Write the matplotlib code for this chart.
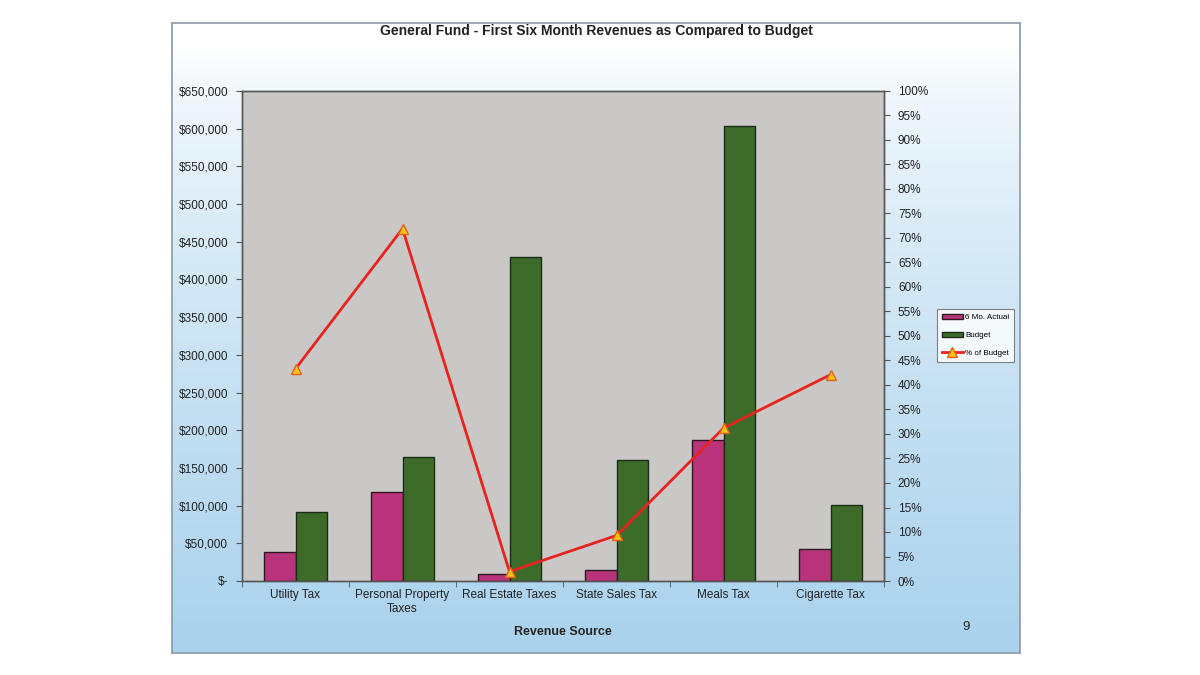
import matplotlib
matplotlib.use("Agg")
import matplotlib.pyplot as plt
import numpy as np
from matplotlib.ticker import FuncFormatter, MultipleLocator

plt.rcParams['font.family'] = ['Liberation Sans', 'DejaVu Sans']

categories = ["Utility Tax", "Personal Property\nTaxes", "Real Estate Taxes",
              "State Sales Tax", "Meals Tax", "Cigarette Tax"]
actual = [38600, 117500, 9300, 14600, 187500, 42500]
budget = [92000, 164000, 429300, 160800, 603100, 101000]
pct_budget = [0.433, 0.719, 0.019, 0.093, 0.312, 0.421]

W, H = 1200, 675
fig = plt.figure(figsize=(12, 6.75), dpi=100)
fig.patch.set_facecolor("white")

# chart frame with vertical gradient
fx0, fy0, fx1, fy1 = 172, 23, 1020, 653
bg = fig.add_axes([fx0 / W, 1 - fy1 / H, (fx1 - fx0) / W, (fy1 - fy0) / H], zorder=0)
grad = np.linspace(0, 1, 256).reshape(-1, 1)
top = np.array([1.0, 1.0, 1.0])
bot = np.array([170, 210, 237]) / 255.0
mid_t = np.clip((grad - 0.04) / 0.96, 0, 1) ** 0.7
img = top[None, None, :] * (1 - mid_t[..., None]) + bot[None, None, :] * mid_t[..., None]
bg.imshow(img, aspect="auto", extent=[0, 1, 0, 1], origin="upper")
bg.set_xticks([]); bg.set_yticks([])
for s in bg.spines.values():
    s.set_color("#8a9aa8"); s.set_linewidth(1.2)

# plot area
px0, py0, px1, py1 = 242, 91, 884, 581
ax = fig.add_axes([px0 / W, 1 - py1 / H, (px1 - px0) / W, (py1 - py0) / H], zorder=2)
ax.set_facecolor("#c9c8c6")

x = np.arange(len(categories))
bw = 0.29
ax.bar(x - bw / 2, actual, bw, color="#b8337a", edgecolor="#2a1a20", linewidth=1.0,
       label="6 Mo. Actual", zorder=3)
ax.bar(x + bw / 2, budget, bw, color="#3d6b2a", edgecolor="#1c2a18", linewidth=1.0,
       label="Budget", zorder=3)
ax.set_xlim(-0.5, len(categories) - 0.5)
ax.set_ylim(0, 650000)
ax.yaxis.set_major_locator(MultipleLocator(50000))
ax.yaxis.set_major_formatter(FuncFormatter(lambda v, p: "$-" if v == 0 else f"${v:,.0f}"))
ax.set_xticks(x)
ax.set_xticklabels(categories, fontsize=8.5, color="#222222")
ax.set_xticks(np.arange(len(categories) + 1) - 0.5, minor=True)
ax.tick_params(axis="x", which="major", length=0, pad=6)
ax.tick_params(axis="x", which="minor", length=4, color="#555555", direction="out")
ax.tick_params(axis="y", labelsize=8.5, labelcolor="#222222", length=4, color="#555555", pad=6)
ax.set_xlabel("Revenue Source", fontsize=9, fontweight="bold", color="#222222", labelpad=8)
for s in ax.spines.values():
    s.set_color("#555555"); s.set_linewidth(1.0)

ax2 = ax.twinx()
ax2.set_ylim(0, 1.0)
ax2.yaxis.set_major_locator(MultipleLocator(0.05))
ax2.yaxis.set_major_formatter(FuncFormatter(lambda v, p: f"{v * 100:.0f}%"))
ax2.tick_params(axis="y", labelsize=8.5, labelcolor="#222222", length=4, color="#555555", pad=6)
ax2.plot(x, pct_budget, color="#e8231f", linewidth=2.0, marker="^", markersize=7,
         markerfacecolor="#f7c21a", markeredgecolor="#e5601a", markeredgewidth=1.0,
         label="% of Budget", zorder=5)
for s in ax2.spines.values():
    s.set_color("#555555"); s.set_linewidth(1.0)

h1, l1 = ax.get_legend_handles_labels()
h2, l2 = ax2.get_legend_handles_labels()
leg = fig.legend(h1 + h2, l1 + l2, loc="upper left",
                 bbox_to_anchor=(933 / W, 1 - 305 / H), fontsize=5.8,
                 frameon=True, fancybox=False, handlelength=2.6, handleheight=0.6,
                 borderpad=0.6, labelspacing=1.3, handletextpad=0.3)
leg.get_frame().set_edgecolor("#666666")
leg.get_frame().set_facecolor("white")
leg.get_frame().set_linewidth(0.8)
leg.set_zorder(10)

fig.text(0.5 * (fx0 + fx1) / W, 1 - 31 / H, "General Fund - First Six Month Revenues as Compared to Budget",
         ha="center", va="center", fontsize=10, fontweight="bold", color="#222222", zorder=5)
fig.text(966 / W, 1 - 627 / H, "9", ha="center", va="center", fontsize=9.5, color="#222222", zorder=5)

fig.savefig("out.png", dpi=100)
